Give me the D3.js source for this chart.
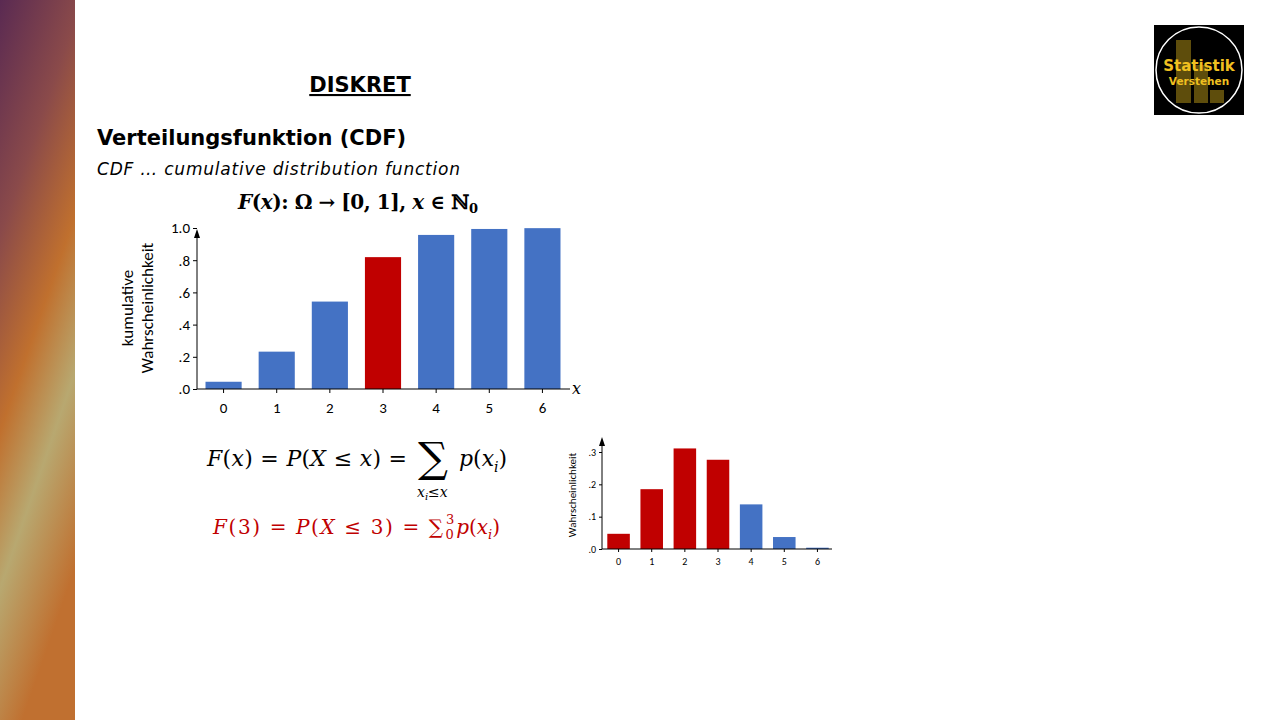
<!DOCTYPE html>
<html><head><meta charset="utf-8">
<script src="https://cdn.jsdelivr.net/npm/d3@7"></script>
<style>body{margin:0;background:#fff}svg{display:block}</style>
</head><body>
<svg width="1280" height="720"></svg>
<script>
const xs = ["0","1","2","3","4","5","6"];
const cdf = [0.045, 0.232, 0.543, 0.819, 0.957, 0.994, 0.999];
const pmf = [0.047, 0.185, 0.311, 0.276, 0.138, 0.037, 0.004];
const cdfTicks = [0, 0.2, 0.4, 0.6, 0.8, 1.0];
const pmfTicks = [0, 0.1, 0.2, 0.3];
const BLUE = "#4472c4", RED = "#c00000";

const svg = d3.select("svg");
const defs = svg.append("defs");
const lg = defs.append("linearGradient").attr("id","side").attr("x1",0).attr("y1",0).attr("x2",0.3).attr("y2",1);
[["0","#5a2a52"],["0.3","#8a4a4a"],["0.55","#c0702e"],["0.75","#b8a870"],["1","#c07030"]]
  .forEach(([o,c]) => lg.append("stop").attr("offset",o).attr("stop-color",c));
svg.append("rect").attr("width",75).attr("height",720).attr("fill","url(#side)");

// titles
svg.append("text").attr("x",360).attr("y",92).attr("text-anchor","middle")
  .attr("font-family","Verdana, DejaVu Sans").attr("font-weight","bold").attr("font-size",21)
  .attr("text-decoration","underline").text("DISKRET");
svg.append("text").attr("x",97).attr("y",145).attr("font-family","Verdana, DejaVu Sans")
  .attr("font-weight","bold").attr("font-size",21).text("Verteilungsfunktion (CDF)");
svg.append("text").attr("x",97).attr("y",175).attr("font-family","Verdana, DejaVu Sans")
  .attr("font-style","italic").attr("font-size",17).attr("textLength",363).text("CDF … cumulative distribution function");
svg.append("text").attr("x",238).attr("y",209)
  .attr("font-family","DejaVu Serif, serif").attr("font-weight","bold").attr("font-size",20).attr("textLength",240)
  .html('<tspan font-style="italic">F</tspan>(<tspan font-style="italic">x</tspan>): Ω → [0, 1], <tspan font-style="italic">x</tspan> ∈ ℕ<tspan font-size="13" dy="4">0</tspan>');

function chart(o) {
  const g = svg.append("g");
  const x = d3.scaleBand().domain(xs).range([o.x0, o.x1]).paddingInner(o.pad).paddingOuter(o.pad/2);
  const y = d3.scaleLinear().domain([0, o.ymax]).range([o.base, o.top]);
  g.selectAll("rect").data(o.vals).join("rect")
    .attr("x",(d,i)=>x(xs[i])).attr("width",x.bandwidth())
    .attr("y",d=>y(d)).attr("height",d=>o.base-y(d))
    .attr("fill",(d,i)=>o.red(i)?RED:BLUE);
  const ya = g.append("g").attr("transform",`translate(${o.x0},0)`)
    .call(d3.axisLeft(y).tickValues(o.ticks).tickSize(o.tk).tickFormat(d=>d===1?"1.0":d3.format(".1f")(d).replace(/^0/,"")));
  ya.select(".domain").remove();
  ya.selectAll("text").attr("font-family","Calibri, Carlito, Liberation Sans, sans-serif").attr("font-size",o.fs);
  g.append("line").attr("x1",o.x0).attr("x2",o.x0).attr("y1",o.base).attr("y2",o.arrowTop+6).attr("stroke","#000");
  g.append("path").attr("d",`M${o.x0-3},${o.arrowTop+9}L${o.x0},${o.arrowTop}L${o.x0+3},${o.arrowTop+9}Z`).attr("fill","#000");
  const xa = g.append("g").attr("transform",`translate(0,${o.base})`)
    .call(d3.axisBottom(x).tickSize(o.tk).tickPadding(o.fs*0.6));
  xa.select(".domain").remove();
  xa.selectAll("text").attr("font-family","Calibri, Carlito, Liberation Sans, sans-serif").attr("font-size",o.fs);
  g.append("line").attr("x1",o.x0).attr("x2",o.axEnd).attr("y1",o.base).attr("y2",o.base).attr("stroke","#000");
  return g;
}

const c1 = chart({x0:197,x1:569,base:389,top:228,arrowTop:229,ymax:1,vals:cdf,ticks:cdfTicks,pad:0.32,
  red:i=>i===3,tk:4,fs:15,axEnd:570});
c1.append("text").attr("x",572).attr("y",394).attr("font-family","DejaVu Serif, serif").attr("font-style","italic")
  .attr("font-size",16).text("x");
c1.append("text").attr("transform","translate(0,308) rotate(-90)").attr("text-anchor","middle")
  .attr("font-family","Calibri, Carlito, Liberation Sans, sans-serif").attr("font-size",17)
  .selectAll("tspan").data(["kumulative","Wahrscheinlichkeit"]).join("tspan")
  .attr("x",0).attr("y",(d,i)=>i?153:133).text(d=>d);

const c2 = chart({x0:602,x1:834,base:549,top:452,arrowTop:437,ymax:0.3,vals:pmf,ticks:pmfTicks,pad:0.32,
  red:i=>i<=3,tk:3,fs:10,axEnd:832});
c2.append("text").attr("transform","translate(576,495) rotate(-90)").attr("text-anchor","middle")
  .attr("font-family","Calibri, Carlito, Liberation Sans, sans-serif").attr("font-size",11).text("Wahrscheinlichkeit");

// formulas
const serif = "DejaVu Serif, serif";
svg.append("text").attr("x",207).attr("y",466).attr("font-family",serif).attr("font-size",22).attr("textLength",200)
  .html('<tspan font-style="italic">F</tspan>(<tspan font-style="italic">x</tspan>) = <tspan font-style="italic">P</tspan>(<tspan font-style="italic">X</tspan> ≤ <tspan font-style="italic">x</tspan>) =');
svg.append("text").attr("x",433).attr("y",472).attr("text-anchor","middle").attr("font-family",serif).attr("font-size",42).text("∑");
svg.append("text").attr("x",417).attr("y",497).attr("font-family",serif).attr("font-size",14).attr("font-style","italic")
  .html('x<tspan font-size="10" dy="3">i</tspan><tspan dy="-3" font-style="normal">≤</tspan>x');
svg.append("text").attr("x",459).attr("y",466).attr("font-family",serif).attr("font-size",22)
  .html('<tspan font-style="italic">p</tspan>(<tspan font-style="italic">x</tspan><tspan font-style="italic" font-size="14" dy="6">i</tspan><tspan dy="-6">)</tspan>');
const red = svg.append("text").attr("x",213).attr("y",534).attr("font-family",serif).attr("font-size",20).attr("fill",RED);
red.append("tspan").attr("textLength",230)
  .html('<tspan font-style="italic">F</tspan>(3) = <tspan font-style="italic">P</tspan>(<tspan font-style="italic">X</tspan> ≤ 3) = ∑');
red.append("tspan").attr("font-size",13).attr("dy",5).attr("dx",1).text("0");
red.append("tspan").attr("font-size",13).attr("dx",-8).attr("dy",-15).text("3");
red.append("tspan").attr("dy",10).attr("dx",2).attr("font-style","italic").text("p");
red.append("tspan").text("(");
red.append("tspan").attr("font-style","italic").text("x");
red.append("tspan").attr("font-style","italic").attr("font-size",13).attr("dy",5).text("i");
red.append("tspan").attr("dy",-5).text(")");

// logo
const lgG = svg.append("g").attr("transform","translate(1154,25)");
lgG.append("rect").attr("width",90).attr("height",90).attr("fill","#000");
[[22,15,15,63],[40,40,14,38],[56,65,14,13]].forEach(([x,y,w,h]) =>
  lgG.append("rect").attr("x",x).attr("y",y).attr("width",w).attr("height",h).attr("fill","#5e4d0c"));
lgG.append("circle").attr("cx",45).attr("cy",45).attr("r",43).attr("fill","none").attr("stroke","#fff").attr("stroke-width",1.5);
lgG.append("text").attr("x",45).attr("y",46).attr("text-anchor","middle").attr("font-family","Verdana, DejaVu Sans")
  .attr("font-weight","bold").attr("font-size",15).attr("fill","#f0c020").text("Statistik");
lgG.append("text").attr("x",45).attr("y",60).attr("text-anchor","middle").attr("font-family","Verdana, DejaVu Sans")
  .attr("font-weight","bold").attr("font-size",10.5).attr("fill","#f0c020").text("Verstehen");
</script>
</body></html>
